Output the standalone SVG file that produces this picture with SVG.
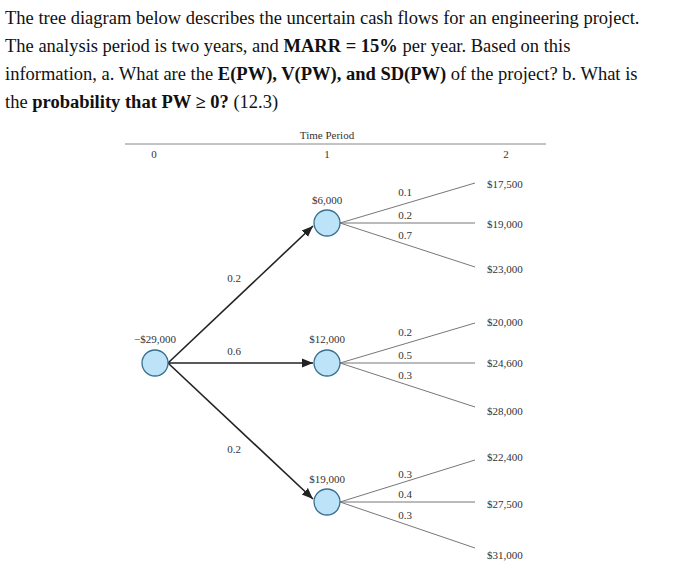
<svg xmlns="http://www.w3.org/2000/svg" width="700" height="575" viewBox="0 0 700 575">
<style>
.t{font-family:"Liberation Serif",serif;font-size:18.5px;fill:#111}
.s{font-family:"Liberation Serif",serif;font-size:11px;fill:#333;text-anchor:middle}
.v{font-family:"Liberation Serif",serif;font-size:11px;fill:#333}
.n{fill:#bde3f8;stroke:#3a6f8f;stroke-width:1.3}
.b{stroke:#222;stroke-width:1.6;fill:none}
.l{stroke:#777;stroke-width:1;fill:none}
</style>
<defs><marker id="a" viewBox="0 0 10 10" refX="10" refY="5" markerWidth="7" markerHeight="7" orient="auto"><path d="M0,1 L10,5 L0,9 z" fill="#222"/></marker></defs>
<rect width="700" height="575" fill="#fff"/>
<text class="t" x="5" y="24">The tree diagram below describes the uncertain cash flows for an engineering project.</text>
<text class="t" x="5" y="52">The analysis period is two years, and <tspan font-weight="bold">MARR = 15%</tspan> per year. Based on this</text>
<text class="t" x="5" y="80">information, a. What are the <tspan font-weight="bold">E(PW), V(PW), and SD(PW)</tspan> of the project? b. What is</text>
<text class="t" x="5" y="108">the <tspan font-weight="bold">probability that PW ≥ 0?</tspan> (12.3)</text>
<text class="s" x="327" y="139">Time Period</text>
<line x1="125" y1="144" x2="546" y2="144" stroke="#888" stroke-width="1"/>
<text class="s" x="154" y="158">0</text><text class="s" x="327" y="158">1</text><text class="s" x="506" y="158">2</text>
<g id="connectors">
<line class="b" x1="168" y1="363" x2="313" y2="226" marker-end="url(#a)"/>
<line class="b" x1="168" y1="363" x2="313" y2="363" marker-end="url(#a)"/>
<line class="b" x1="168" y1="363" x2="313" y2="499" marker-end="url(#a)"/>
<path class="l" d="M340,223 L475,183 M340,223 L475,223 M340,223 L475,267"/>
<path class="l" d="M340,363 L475,323 M340,363 L475,363 M340,363 L475,407"/>
<path class="l" d="M340,502 L475,460 M340,502 L475,502 M340,502 L475,548"/>
<text class="s" x="234" y="282">0.2</text><text class="s" x="234" y="355">0.6</text><text class="s" x="234" y="453">0.2</text>
<text class="s" x="405" y="196">0.1</text><text class="s" x="405" y="219">0.2</text><text class="s" x="405" y="239">0.7</text>
<text class="s" x="405" y="336">0.2</text><text class="s" x="405" y="359">0.5</text><text class="s" x="405" y="379">0.3</text>
<text class="s" x="405" y="478">0.3</text><text class="s" x="405" y="498">0.4</text><text class="s" x="405" y="519">0.3</text>
</g>
<g id="root"><circle class="n" cx="155" cy="363" r="13"/><text class="s" x="155" y="343">−$29,000</text></g>
<g id="n1"><circle class="n" cx="327" cy="223" r="13"/><text class="s" x="327" y="204">$6,000</text></g>
<g id="n2"><circle class="n" cx="327" cy="363" r="13"/><text class="s" x="327" y="343">$12,000</text></g>
<g id="n3"><circle class="n" cx="327" cy="502" r="13"/><text class="s" x="327" y="483">$19,000</text></g>
<g id="outcomes">
<text class="v" x="487" y="188">$17,500</text><text class="v" x="487" y="228">$19,000</text><text class="v" x="487" y="273">$23,000</text>
<text class="v" x="487" y="326">$20,000</text><text class="v" x="487" y="367">$24,600</text><text class="v" x="487" y="415">$28,000</text>
<text class="v" x="487" y="461">$22,400</text><text class="v" x="487" y="508">$27,500</text><text class="v" x="487" y="559">$31,000</text>
</g>
</svg>
